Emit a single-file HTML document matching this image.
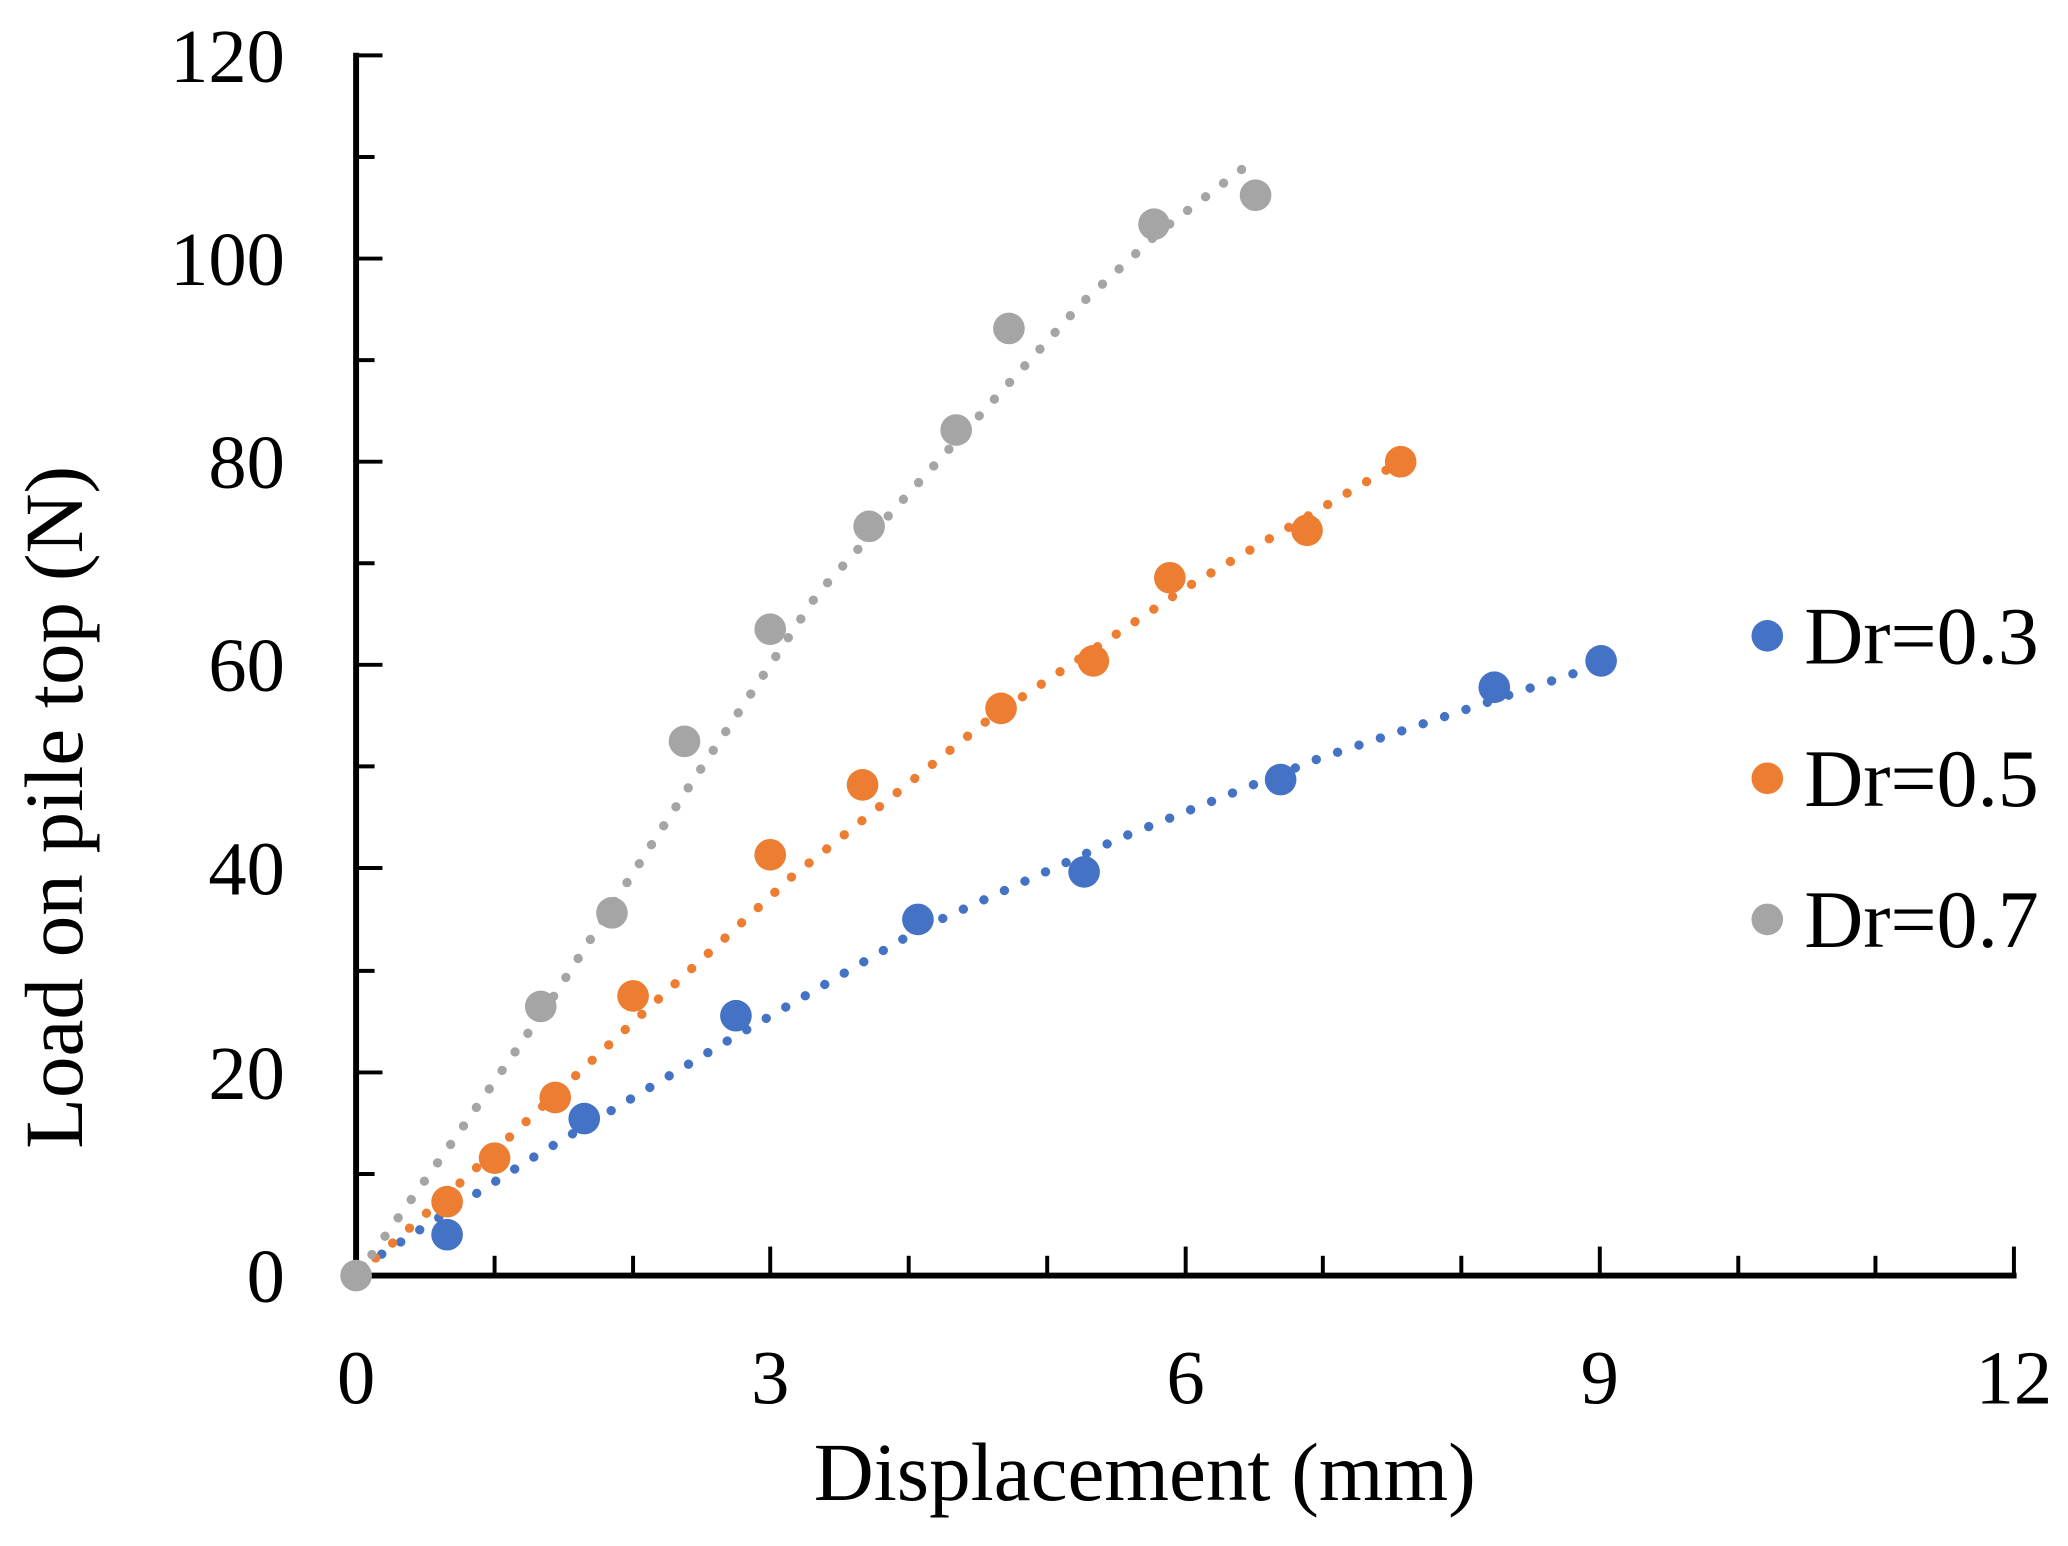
<!DOCTYPE html>
<html><head><style>html,body{margin:0;padding:0;background:#fff}svg{display:block}</style></head>
<body>
<svg width="2068" height="1546" viewBox="0 0 1568 1172" preserveAspectRatio="none" xmlns="http://www.w3.org/2000/svg" font-family="Liberation Serif, serif">
<rect width="1568" height="1172" fill="#fff"/>
<g stroke="#000" stroke-width="4.5" fill="none">
<line x1="270" y1="40" x2="270" y2="969"/>
<line x1="268" y1="967" x2="1529" y2="967"/>
</g>
<g stroke="#000" stroke-width="3">
<line x1="270" y1="42" x2="290" y2="42"/><line x1="270" y1="119" x2="284" y2="119"/>
<line x1="270" y1="196" x2="290" y2="196"/><line x1="270" y1="273" x2="284" y2="273"/>
<line x1="270" y1="350" x2="290" y2="350"/><line x1="270" y1="427" x2="284" y2="427"/>
<line x1="270" y1="504" x2="290" y2="504"/><line x1="270" y1="581" x2="284" y2="581"/>
<line x1="270" y1="658" x2="290" y2="658"/><line x1="270" y1="736" x2="284" y2="736"/>
<line x1="270" y1="813" x2="290" y2="813"/><line x1="270" y1="890" x2="284" y2="890"/>
<line x1="375" y1="967" x2="375" y2="952"/><line x1="480" y1="967" x2="480" y2="952"/>
<line x1="584" y1="967" x2="584" y2="945"/><line x1="689" y1="967" x2="689" y2="952"/>
<line x1="794" y1="967" x2="794" y2="952"/><line x1="899" y1="967" x2="899" y2="945"/>
<line x1="1003" y1="967" x2="1003" y2="952"/><line x1="1108" y1="967" x2="1108" y2="952"/>
<line x1="1213" y1="967" x2="1213" y2="945"/><line x1="1318" y1="967" x2="1318" y2="952"/>
<line x1="1422" y1="967" x2="1422" y2="952"/><line x1="1527" y1="967" x2="1527" y2="945"/>
</g>
<g font-size="58" text-anchor="end" fill="#000">
<text x="216" y="62">120</text><text x="216" y="216">100</text><text x="216" y="370">80</text>
<text x="216" y="524">60</text><text x="216" y="678">40</text><text x="216" y="833">20</text><text x="216" y="987">0</text>
</g>
<g font-size="58" text-anchor="middle" fill="#000">
<text x="270" y="1064">0</text><text x="584" y="1064">3</text><text x="899" y="1064">6</text><text x="1213" y="1064">9</text><text x="1527" y="1064">12</text>
</g>
<text x="868" y="1137" font-size="63" text-anchor="middle">Displacement (mm)</text>
<text transform="translate(62,612) rotate(-90)" font-size="63" text-anchor="middle">Load on pile top (N)</text>
<g fill="none" stroke-width="7" stroke-linecap="round" stroke-linejoin="round" stroke-dasharray="0.1 17">
<polyline stroke="#4472C4" points="275,960 400,880 550,790 700,703 850,635 1000,575 1210,505"/>
<polyline stroke="#ED7D31" points="272,965 340,905 480,775 600,665 750,545 900,445 1062,350"/>
<polyline stroke="#A5A5A5" points="272,965 340,870 420,755 520,600 620,450 720,340 820,230 880,175 942,128"/>
</g>
<g fill="#4472C4">
<circle cx="339" cy="936" r="12"/><circle cx="443" cy="848" r="12"/><circle cx="558" cy="770" r="12"/><circle cx="696" cy="697" r="12"/><circle cx="822" cy="661" r="12"/><circle cx="971" cy="591" r="12"/><circle cx="1133" cy="521" r="12"/><circle cx="1214" cy="501" r="12"/>
</g>
<g fill="#ED7D31">
<circle cx="339" cy="911" r="12"/><circle cx="375" cy="878" r="12"/><circle cx="421" cy="832" r="12"/><circle cx="480" cy="755" r="12"/><circle cx="584" cy="648" r="12"/><circle cx="654" cy="595" r="12"/><circle cx="759" cy="537" r="12"/><circle cx="829" cy="501" r="12"/><circle cx="887" cy="438" r="12"/><circle cx="991" cy="402" r="12"/><circle cx="1062" cy="350" r="12"/>
</g>
<g fill="#A5A5A5">
<circle cx="270" cy="967" r="12"/><circle cx="410" cy="763" r="12"/><circle cx="464" cy="692" r="12"/><circle cx="519" cy="562" r="12"/><circle cx="584" cy="477" r="12"/><circle cx="659" cy="399" r="12"/><circle cx="725" cy="326" r="12"/><circle cx="765" cy="249" r="12"/><circle cx="875" cy="170" r="12"/><circle cx="952" cy="148" r="12"/>
</g>
<circle cx="1340" cy="482" r="12" fill="#4472C4"/>
<circle cx="1340" cy="590" r="12" fill="#ED7D31"/>
<circle cx="1340" cy="697" r="12" fill="#A5A5A5"/>
<g font-size="62" fill="#000">
<text x="1368" y="503">Dr=0.3</text><text x="1368" y="611">Dr=0.5</text><text x="1368" y="718">Dr=0.7</text>
</g>
</svg>
</body></html>
